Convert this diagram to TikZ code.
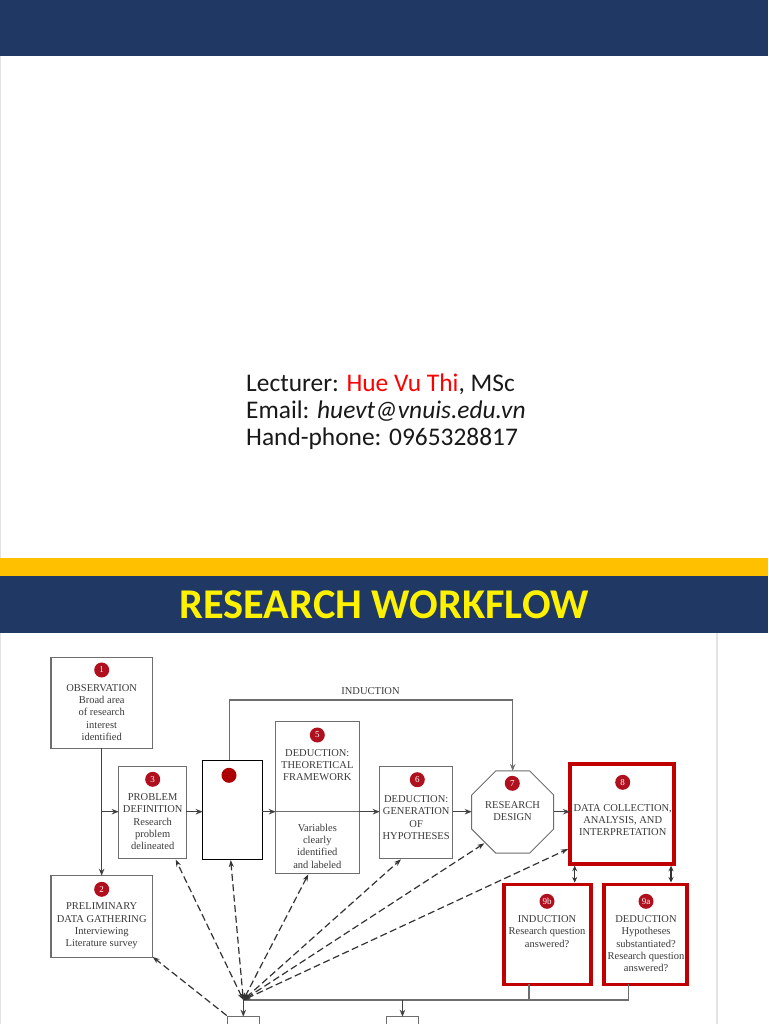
\documentclass[tikz,border=0pt]{standalone}
\usepackage{fontspec}
\setmainfont{Liberation Serif}
\newfontfamily\slidefont{Carlito}
\usetikzlibrary{arrows.meta,shapes.geometric}
\definecolor{navy}{HTML}{1F3864}
\definecolor{amber}{HTML}{FFC000}
\definecolor{boxred}{HTML}{C00000}
\definecolor{badgered}{HTML}{B0101E}
\definecolor{greyline}{HTML}{6E6E6E}
\definecolor{inktext}{HTML}{3A3A3A}
\definecolor{rule}{HTML}{E3E3E3}
\tikzset{
  band/.style={draw=none,inner sep=0pt,outer sep=0pt},
  greybox/.style={draw=greyline,line width=1.2pt,fill=white,inner sep=0pt,outer sep=0pt},
  blackbox/.style={draw=black,line width=1.2pt,fill=white,inner sep=0pt,outer sep=0pt},
  redbox/.style={draw=boxred,line width=3.6pt,fill=white,inner sep=0pt,outer sep=0pt},
  octa/.style={draw=greyline,line width=1pt,fill=white,regular polygon,regular polygon sides=8,minimum size=88.8pt,inner sep=0pt,outer sep=0pt},
  badge/.style={circle,fill=badgered,text=white,minimum size=15pt,inner sep=0pt,font=\fontsize{9}{9}\selectfont},
  txt/.style={align=center,text=inktext,inner sep=0pt,font=\fontsize{10.5}{12.3}\selectfont},
  flow/.style={draw=greyline!60!black,line width=1.4pt,-{Stealth[length=7pt,width=5.5pt]}},
  plainline/.style={draw=greyline,line width=1.4pt},
  twoway/.style={draw=black!80,line width=1.4pt,{Stealth[length=5.5pt,width=5pt]}-{Stealth[length=5.5pt,width=5pt]}},
  dashone/.style={draw=black!80,line width=1.2pt,dash pattern=on 7pt off 3.5pt,-{Stealth[length=7pt,width=5pt]}},
  dashlink/.style={dashone,{Stealth[length=7pt,width=5pt]}-{Stealth[length=7pt,width=5pt]}},
  slidetext/.style={anchor=west,inner sep=0pt,text=black!90,font=\slidefont\fontsize{25.4}{27}\selectfont}
}
\begin{document}
\begin{tikzpicture}[x=1pt,y=-1pt]
\useasboundingbox (0,0) rectangle (768,1024);
\clip (0,0) rectangle (768,1024);
\fill[white] (0,0) rectangle (768,1024);
% slide bands
\fill[navy] (0,0) rectangle (768,56.5);
\draw[rule,line width=1pt] (0.5,56) -- (0.5,558);
\fill[amber] (0,558) rectangle (768,576);
\fill[navy] (0,576) rectangle (768,632.5);
\draw[rule,line width=1.5pt] (717,633) -- (717,1024);
\draw[rule,line width=1pt] (0.5,633) -- (0.5,1024);
\node[band,text=yellow,font=\slidefont\bfseries\fontsize{42.4}{42.4}\selectfont] (title) at (384,605) {RESEARCH WORKFLOW};
% lecturer block
\node[slidetext,align=left] (lect) at (246,411.5) {Lecturer: \textcolor{red}{Hue Vu Thi}, MSc\\Email: \textit{huevt@vnuis.edu.vn}\\Hand-phone: 0965328817};
% boxes
\node[greybox,minimum width=101.3pt,minimum height=91pt] (b1) at (101.65,702.8) {};
\node[greybox,minimum width=101.3pt,minimum height=82pt] (b2) at (101.65,916.7) {};
\node[greybox,minimum width=67.6pt,minimum height=92pt] (b3) at (152.5,812.7) {};
\node[blackbox,minimum width=59.6pt,minimum height=99pt] (b4) at (232.5,809.8) {};
\node[greybox,minimum width=83.6pt,minimum height=152pt] (b5) at (317.5,797.7) {};
\node[greybox,minimum width=73pt,minimum height=92pt] (b6) at (416.2,812.7) {};
\node[octa] (b7) at (512.7,812) {};
\node[redbox,minimum width=104pt,minimum height=100pt] (b8) at (622,814) {};
\node[redbox,minimum width=86.7pt,minimum height=100pt] (b9b) at (547.6,934.3) {};
\node[redbox,minimum width=82.7pt,minimum height=100pt] (b9a) at (645.6,934.3) {};
\node[greybox,minimum width=32pt,minimum height=30pt,anchor=north] (bl) at (243.3,1016.7) {};
\node[greybox,minimum width=31.6pt,minimum height=30pt,anchor=north] (br) at (402.5,1016.7) {};
% badges
\node[badge] (n1) at (101.7,670) {1};
\node[badge] (n2) at (101.7,889.3) {2};
\node[badge] (n3) at (152.7,779.3) {3};
\node[badge,fill=boxred!90!black] (n4) at (229,775.3) {};
\node[badge] (n5) at (317.3,735) {5};
\node[badge] (n6) at (417.3,779.7) {6};
\node[badge] (n7) at (512.3,783.3) {7};
\node[badge] (n8) at (622.7,782.3) {8};
\node[badge] (n9b) at (547,901.3) {9b};
\node[badge] (n9a) at (646,901.3) {9a};
% texts
\node[txt] (t1) at (101.7,712.5) {OBSERVATION\\Broad area\\of research\\interest\\identified};
\node[txt] (t2) at (101.7,926) {PRELIMINARY\\DATA GATHERING\\Interviewing\\Literature survey};
\node[txt] (t3) at (152.7,821.7) {PROBLEM\\DEFINITION\\Research\\problem\\delineated};
\node[txt] (t5a) at (317.3,765) {DEDUCTION:\\THEORETICAL\\FRAMEWORK};
\node[txt] (t5b) at (317.3,846) {Variables\\clearly\\identified\\and labeled};
\node[txt] (t6) at (416.2,817.7) {DEDUCTION:\\GENERATION\\OF\\HYPOTHESES};
\node[txt] (t7) at (512.5,810.8) {RESEARCH\\DESIGN};
\node[txt] (t8) at (622.7,820) {DATA COLLECTION,\\ANALYSIS, AND\\INTERPRETATION};
\node[txt] (t9b) at (547,931.3) {INDUCTION\\Research question\\answered?};
\node[txt] (t9a) at (646,943.7) {DEDUCTION\\Hypotheses\\substantiated?\\Research question\\answered?};
\node[txt] (tind) at (370.5,691.5) {INDUCTION};
% helper points
\coordinate (hub) at (243.3,1000);
\coordinate (split) at (101.65,811.7);
\coordinate (p4) at (229.3,760.3);
\coordinate (up4) at (229.3,700);
\coordinate (up7) at (512.7,700);
\coordinate (j9b) at (529,1000);
\coordinate (j9a) at (628.3,1000);
\coordinate (jr) at (402.5,1000);
\coordinate (s9b) at (529,984.3);
\coordinate (s9a) at (628.3,984.3);
\coordinate (e2s) at (226.7,1015.5);
\coordinate (e2) at (152.7,956.9);
\coordinate (e3) at (175.7,859.6);
\coordinate (e4) at (230.7,860);
\coordinate (e5) at (308.3,874.3);
\coordinate (e6) at (401,859.3);
\coordinate (e7) at (484.3,843.3);
\coordinate (e8) at (568,849);
\coordinate (a8) at (574.7,865.7);
\coordinate (a9b) at (574.7,882.5);
\coordinate (c8) at (671,865.7);
\coordinate (c9a) at (671,882.5);
% solid connectors
\draw[flow] (b1.south) -- (b2.north);
\draw[flow] (split) -- (b3.west |- split);
\draw[flow] (b3.east |- split) -- (b4.west |- split);
\draw[flow] (b4.east |- split) -- (b5.west |- split);
\draw[plainline,line width=1.1pt] (b5.west |- split) -- (b5.east |- split);
\draw[flow] (b5.east |- split) -- (b6.west |- split);
\draw[flow] (b6.east |- split) -- (b7.west |- split);
\draw[flow] (b7.east |- split) -- (b8.west |- split);
\draw[flow,draw=greyline,line width=1.2pt] (p4) -- (up4) -- (up7) -- (b7.north);
\draw[plainline] (hub) -- (j9a) -- (s9a);
\draw[plainline] (j9b) -- (s9b);
\draw[flow] (hub) -- (bl.north);
\draw[flow] (jr) -- (br.north);
\draw[twoway] (a8) -- (a9b);
\draw[twoway] (c8) -- (c9a);
% dashed connectors
\draw[dashone] (e2s) -- (e2);
\draw[dashlink] (hub) -- (e3);
\draw[dashlink] (hub) -- (e4);
\draw[dashlink] (hub) -- (e5);
\draw[dashlink] (hub) -- (e6);
\draw[dashlink] (hub) -- (e7);
\draw[dashlink] (hub) -- (e8);
\end{tikzpicture}
\end{document}
